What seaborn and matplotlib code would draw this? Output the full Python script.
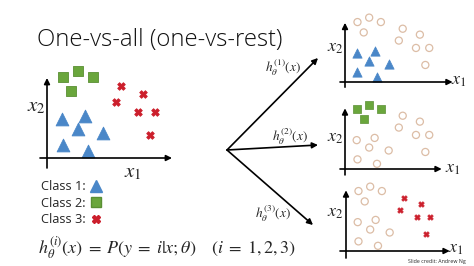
import matplotlib
matplotlib.use('Agg')
import matplotlib.pyplot as plt
import seaborn as sns
import pandas as pd
from matplotlib.lines import Line2D

# ---------------- data ----------------
tri_x1 = [1.5, 3.8, 3.1, 5.6, 1.6, 4.1]
tri_x2 = [3.9, 4.2, 2.9, 2.5, 1.3, 0.7]
sq_x1 = [1.6, 3.1, 4.6, 2.4]
sq_x2 = [8.1, 8.7, 8.1, 6.7]
cr_x1 = [7.4, 9.6, 6.9, 9.1, 10.8, 10.3]
cr_x2 = [7.2, 6.4, 5.6, 4.6, 4.6, 2.3]
class_names = ['Class 1', 'Class 2', 'Class 3']
legend_labels = ['Class 1:', 'Class 2:', 'Class 3:']
hyp_labels = [r'$h_\theta^{(1)}(x)$', r'$h_\theta^{(2)}(x)$', r'$h_\theta^{(3)}(x)$']
title_text = 'One-vs-all (one-vs-rest)'
formula_text = r'$h_\theta^{(i)}(x)\;=\;P(y\;=\;i|x;\theta)\quad\;(i\;=\;1,2,3)$'
credit_text = 'Slide credit: Andrew Ng'

df = pd.DataFrame({
    'x1': tri_x1 + sq_x1 + cr_x1,
    'x2': tri_x2 + sq_x2 + cr_x2,
    'cls': [class_names[0]] * len(tri_x1) + [class_names[1]] * len(sq_x1) + [class_names[2]] * len(cr_x1),
})

# ---------------- style ----------------
sns.set_style('white')
plt.rcParams['font.family'] = ['Open Sans', 'DejaVu Sans']
plt.rcParams['mathtext.fontset'] = 'stix'

W, H, DPI = 474, 266, 100
colors = {'Class 1': '#4a87c8', 'Class 2': '#6aa63c', 'Class 3': '#cc1f2c'}
edges = {'Class 1': '#4a87c8', 'Class 2': '#5a8f33', 'Class 3': '#cc1f2c'}
markers = {'Class 1': '^', 'Class 2': 's', 'Class 3': 'X'}
size_big = {'Class 1': 85, 'Class 2': 62, 'Class 3': 30}
size_small = {'Class 1': 45, 'Class 2': 36, 'Class 3': 16}
rest_color = '#dcbda6'

fig = plt.figure(figsize=(W / DPI, H / DPI), dpi=DPI, facecolor='white')

def px_axes(left, top, width, height, z=1):
    ax = fig.add_axes([left / W, 1 - (top + height) / H, width / W, height / H], zorder=z)
    ax.set_facecolor('none')
    ax.axis('off')
    return ax

# background axes in pixel coordinates for free text & arrows
bg = px_axes(0, 0, W, H, z=0)
bg.set_xlim(0, W)
bg.set_ylim(H, 0)

arrow_kw = dict(arrowstyle='-|>', color='black', lw=1.2, mutation_scale=8.5,
                shrinkA=0, shrinkB=0)

def draw_axes_arrows(ax, xr, yr, x1pos, x2pos, fs):
    ax.annotate('', xy=(xr[1], 0), xytext=(xr[0], 0), arrowprops=arrow_kw, annotation_clip=False)
    ax.annotate('', xy=(0, yr[1]), xytext=(0, yr[0]), arrowprops=arrow_kw, annotation_clip=False)
    ax.text(*x1pos, r'$x_1$', fontsize=fs, ha='center', va='center')
    ax.text(*x2pos, r'$x_2$', fontsize=fs, ha='center', va='center')

# ---------------- main plot ----------------
ax0 = px_axes(37, 63, 140, 110)
ax0.set_xlim(-1, 13)
ax0.set_ylim(-1.5, 9.5)
for c in class_names:
    sub = df[df['cls'] == c]
    sns.scatterplot(data=sub, x='x1', y='x2', ax=ax0, marker=markers[c], s=size_big[c],
                    color=colors[c], edgecolor=edges[c], linewidth=0.6, legend=False, clip_on=False)
ax0.axis('off')
draw_axes_arrows(ax0, (-0.7, 12.5), (-1.0, 8.0), (8.6, -1.4), (-1.1, 5.2), 15)

# ---------------- small one-vs-rest plots ----------------
small = [
    # origin_x, origin_y, x-axis range, y-axis range, x1 label, x2 label
    (345, 82, (-0.64, 13.8), (-0.7, 8.0), (14.6, 0.3), (-1.3, 4.7)),
    (345, 169, (-0.64, 12.4), (-0.8, 8.2), (13.8, 0.1), (-1.3, 4.3)),
    (346, 251, (-0.77, 13.3), (-0.95, 8.2), (14.1, 0.4), (-1.4, 5.3)),
]
sx, sy = 7.8, 7.4
for k, (ox, oy, xr, yr, l1, l2) in enumerate(small):
    ax = px_axes(ox - 2 * sx, oy - 10 * sy, 17 * sx, 12 * sy)
    ax.set_xlim(-2, 15)
    ax.set_ylim(-2, 10)
    c = class_names[k]
    rest = df[df['cls'] != c]
    sns.scatterplot(data=rest, x='x1', y='x2', ax=ax, marker='o', s=26,
                    facecolor='none', edgecolor=rest_color, linewidth=0.9, legend=False, clip_on=False)
    sub = df[df['cls'] == c]
    sns.scatterplot(data=sub, x='x1', y='x2', ax=ax, marker=markers[c], s=size_small[c],
                    color=colors[c], edgecolor=edges[c], linewidth=0.5, legend=False, clip_on=False)
    ax.axis('off')
    draw_axes_arrows(ax, xr, yr, l1, l2, 13)

# ---------------- arrows from the split point ----------------
origin = (227, 150)
tips = [(318, 58), (318, 145), (313, 225)]
hyp_pos = [(283, 68), (290, 137), (273, 214)]
for tip, lab, pos in zip(tips, hyp_labels, hyp_pos):
    bg.annotate('', xy=tip, xytext=origin, arrowprops=dict(arrowstyle='-|>', color='black', lw=1.2,
                mutation_scale=8.5, shrinkA=0, shrinkB=0))
    bg.text(*pos, lab, fontsize=9.5, ha='center', va='center')

# ---------------- texts ----------------
bg.text(37, 40, title_text, fontsize=17.2, ha='left', va='center', fontweight='light', color='#111111')
bg.text(38, 248, formula_text, fontsize=13, ha='left', va='center')
bg.text(437, 261, credit_text, fontsize=3.8, ha='center', va='center')

handles = [Line2D([], [], linestyle='none', marker=markers[c], color=colors[c],
                  markeredgecolor=edges[c], markersize=ms)
           for c, ms in zip(class_names, [8.5, 7.5, 5.5])]
fig.legend(handles, legend_labels, loc='upper left', bbox_to_anchor=(41 / W, 1 - 180 / H),
           frameon=False, markerfirst=False, fontsize=9.2, handlelength=0.8,
           handletextpad=0.45, labelspacing=0.28, borderpad=0, borderaxespad=0)

fig.savefig('out.png', dpi=DPI, facecolor='white')
